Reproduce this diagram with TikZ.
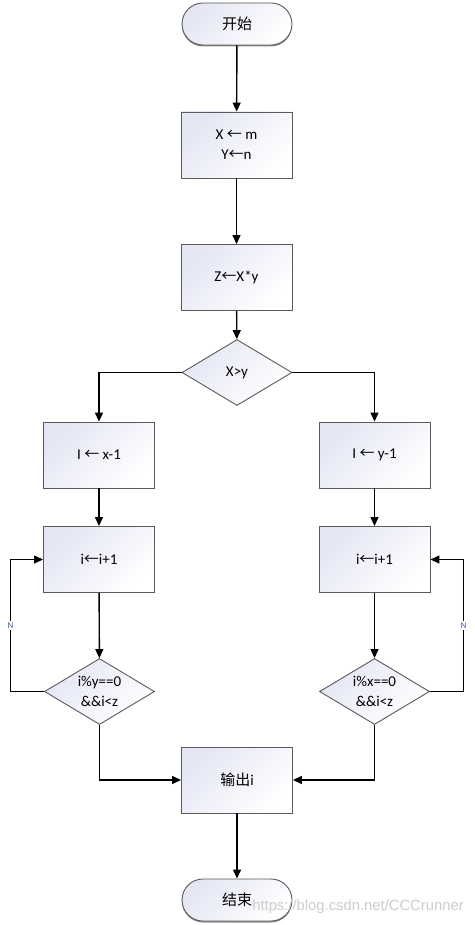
\documentclass[tikz,border=0pt]{standalone}
\usepackage{fontspec}
\setmainfont{Carlito}
\newfontfamily\cjk{Noto Sans CJK SC}
\newfontfamily\wmfont{Liberation Sans}
\usetikzlibrary{arrows.meta,shapes.geometric,shadows}
\definecolor{boxtop}{HTML}{E4E6F4}
\definecolor{boxline}{HTML}{5A5A5A}
\definecolor{nblue}{HTML}{3F5A9C}
\tikzset{
  boxbase/.style={draw=boxline, line width=0.9pt, top color=boxtop, bottom color=white, shading angle=45,
    font=\fontsize{15}{20}\selectfont, align=center, inner sep=0pt},
  procbox/.style={boxbase, rectangle, minimum width=111pt, minimum height=66pt},
  termbox/.style={boxbase, rectangle, rounded corners=21pt, minimum width=110pt, minimum height=42pt,
    drop shadow={shadow xshift=0pt, shadow yshift=-1.5pt, fill=black, opacity=0.45}},
  decbox/.style={boxbase, diamond, aspect=1.67, minimum width=110pt, minimum height=66pt},
  arr/.style={line width=1.4pt, -{Triangle[length=9pt,width=8pt]}},
  nlabel/.style={font=\fontsize{9}{10}\selectfont, text=nblue, fill=white, inner sep=1.5pt}
}
\begin{document}
\begin{tikzpicture}[x=1pt,y=-1pt]
\useasboundingbox (0,0) rectangle (474,925);
\fill[white] (0,0) rectangle (474,925);

\node[termbox] (start) at (237,24) {\cjk 开始};
\node[procbox] (b1) at (236.5,145) {X {\cjk ←} m\\Y{\cjk ←}n};
\node[procbox] (b2) at (236.5,277.5) {Z{\cjk ←}X*y};
\node[decbox] (d1) at (237,372.5) {X>y};
\node[procbox] (b3l) at (99,455) {I {\cjk ←} x-1};
\node[procbox] (b3r) at (374.5,455) {I {\cjk ←} y-1};
\node[procbox] (b4l) at (99,559.5) {i{\cjk ←}i+1};
\node[procbox] (b4r) at (374.5,559.5) {i{\cjk ←}i+1};
\node[decbox] (d2l) at (99.5,691.5) {i\%y==0\\\&\&i<z};
\node[decbox] (d2r) at (374.5,691.5) {i\%x==0\\\&\&i<z};
\node[procbox] (out) at (237,780) {{\cjk 输出}i};
\node[termbox] (end) at (237,900) {\cjk 结束};

\draw[arr] (start) -- (b1);
\draw[arr] (b1) -- (b2);
\draw[arr] (b2) -- (d1);
\draw[arr] (d1.west) -| (b3l.north);
\draw[arr] (d1.east) -| (b3r.north);
\draw[arr] (b3l) -- (b4l);
\draw[arr] (b3r) -- (b4r);
\draw[arr] (b4l) -- (d2l);
\draw[arr] (b4r) -- (d2r);
\draw[arr] (d2l.west) -- ++(-33.5,0) |- node[nlabel,pos=0.25] (nl) {N} (b4l.west);
\draw[arr] (d2r.east) -- ++(33.5,0) |- node[nlabel,pos=0.25] (nr) {N} (b4r.east);
\draw[arr] (d2l.south) |- (out.west);
\draw[arr] (d2r.south) |- (out.east);
\draw[arr] (out) -- (end);

\node[font=\wmfont\fontsize{14.8}{16}\selectfont, text=black!20, anchor=center] (wm) at (358,907) {https://blog.csdn.net/CCCrunner};
\end{tikzpicture}
\end{document}
